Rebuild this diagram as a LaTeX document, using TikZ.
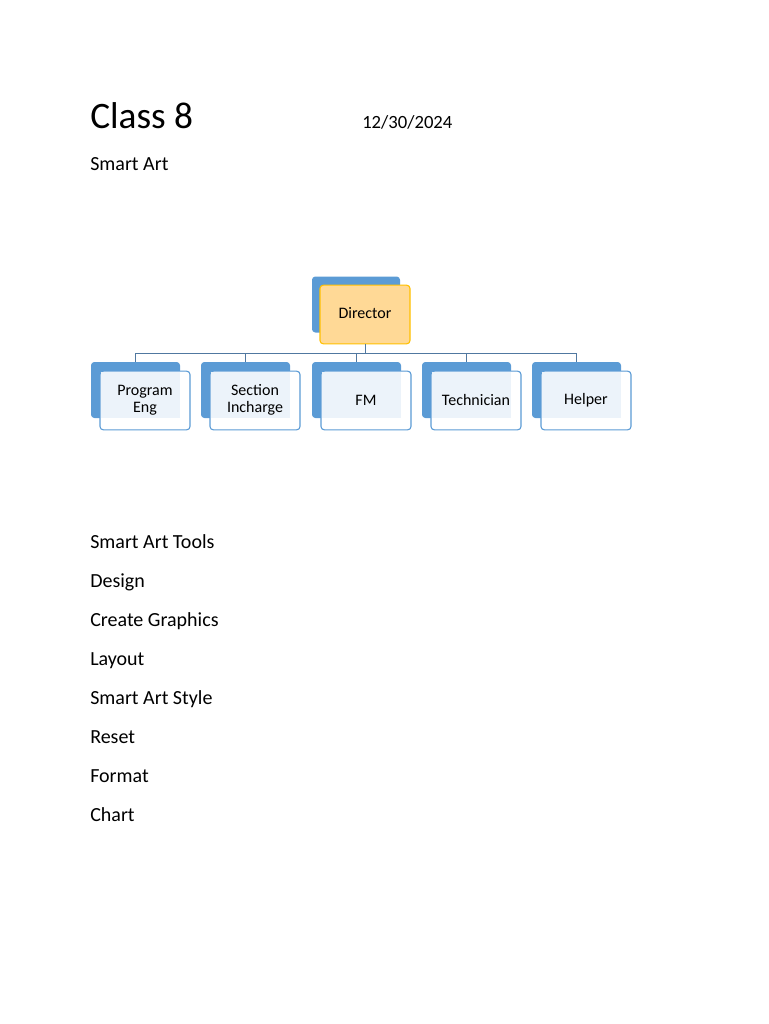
\documentclass[tikz,border=0pt]{standalone}
\usepackage{fontspec}
\setmainfont{Carlito}
\begin{document}
\begin{tikzpicture}[x=0.75pt,y=-0.75pt,
  back/.style={draw=none,fill=blue!20!cyan!40!black!0,fill={rgb,255:red,91;green,155;blue,213},rounded corners=2.5pt,minimum width=66.75pt,minimum height=42pt,inner sep=0pt},
  front/.style={draw={rgb,255:red,91;green,155;blue,213},line width=0.8pt,fill=white,rounded corners=2.5pt,minimum width=67.5pt,minimum height=44pt,inner sep=0pt},
  lab/.style={font=\fontsize{12}{12.5}\selectfont,align=center},
  conn/.style={draw={rgb,255:red,80;green,120;blue,160},line width=0.6pt},
  txt/.style={anchor=base west,inner sep=0pt,font=\fontsize{15}{18}\selectfont}]
\useasboundingbox (0,0) rectangle (768,1024);
\definecolor{lightb}{RGB}{236,243,250}
\definecolor{orfill}{RGB}{255,217,150}
\definecolor{ordraw}{RGB}{255,192,0}
\node[txt,font=\fontsize{28}{30}\selectfont] (title) at (90,128) {Class 8};
\node[txt,font=\fontsize{14}{16}\selectfont] (date) at (362,128) {12/30/2024};
\node[txt] (sa) at (90,170) {Smart Art};
% Director
\node[back,minimum width=66pt] (db) at (356,304.5) {};
\node[front,fill=orfill,draw=ordraw] (d) at (365,314.5) {};
\node[lab] (dl) at (365,313) {Director};
% children
\foreach \i/\x/\t in {1/91/{Program\\Eng},2/201/{Section\\Incharge},3/312/FM,4/422/Technician,5/532/Helper}{
  \node[back] (b\i) at (\x+44.5,390) {};
  \node[front] (f\i) at (\x+54,400.5) {};
  \fill[lightb] (\x+10,372) rectangle (\x+89,418);
  \node[lab] (l\i) at (\x+54,400) {\t};
  \coordinate (c\i) at (\x+44.5,353);
}
\draw[conn] (d.south) -- (d.south |- c3);
\draw[conn] (c1) -- (c5);
\foreach \i in {1,...,5}{\draw[conn] (c\i) -- (b\i.north);}
\foreach \t [count=\k] in {Smart Art Tools,Design,Create Graphics,Layout,Smart Art Style,Reset,Format,Chart}{
  \node[txt] (t\k) at (90,548+39*\k-39) {\t};
}
\end{tikzpicture}
\end{document}
